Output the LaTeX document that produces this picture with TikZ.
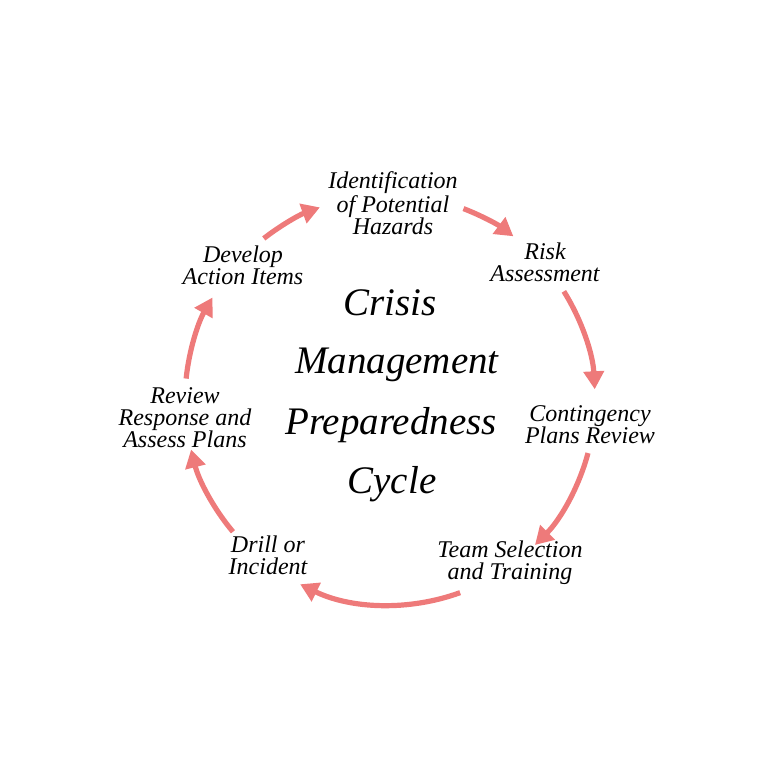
\documentclass[tikz,border=0pt]{standalone}
\usepackage{fontspec}
\setmainfont{Liberation Serif}
\usetikzlibrary{arrows.meta,calc}
\definecolor{arr}{RGB}{238,122,122}
\begin{document}
\begin{tikzpicture}[x=0.5pt,y=-0.5pt,
  lab/.style={align=center,font=\fontsize{12}{11}\selectfont\itshape,inner sep=0pt},
  ttl/.style={font=\fontsize{19.5}{20}\selectfont\itshape,inner sep=0pt},
  cyc/.style={draw=arr,line width=2.6pt,-{Triangle[length=9pt,width=10pt]}}]
\useasboundingbox (0,0) rectangle (768,768);
\coordinate (c) at (390,400);
\foreach \a/\b in {69/53,32/3,-15/-45,-70/-116,-140/-166,174/150,128/110}
  \draw[cyc] ($(c)+(\a:102.5pt)$) arc[start angle=\a,end angle=\b,radius=102.5pt];
\node[lab] (n1) at (393,203) {Identification\\of Potential\\Hazards};
\node[lab] (n2) at (545,262) {Risk\\Assessment};
\node[lab] (n3) at (590,425) {Contingency\\Plans Review};
\node[lab] (n4) at (510,563) {Team Selection\\and Training};
\node[lab] (n5) at (268,555) {Drill or\\Incident};
\node[lab] (n6) at (185,418) {Review\\Response and\\Assess Plans};
\node[lab] (n7) at (243,265) {Develop\\Action Items};
\node[ttl] (t1) at (390,303) {Crisis};
\node[ttl] (t2) at (397,365) {Management};
\node[ttl] (t3) at (391,425) {Preparedness};
\node[ttl] (t4) at (392,484) {Cycle};
\end{tikzpicture}
\end{document}
